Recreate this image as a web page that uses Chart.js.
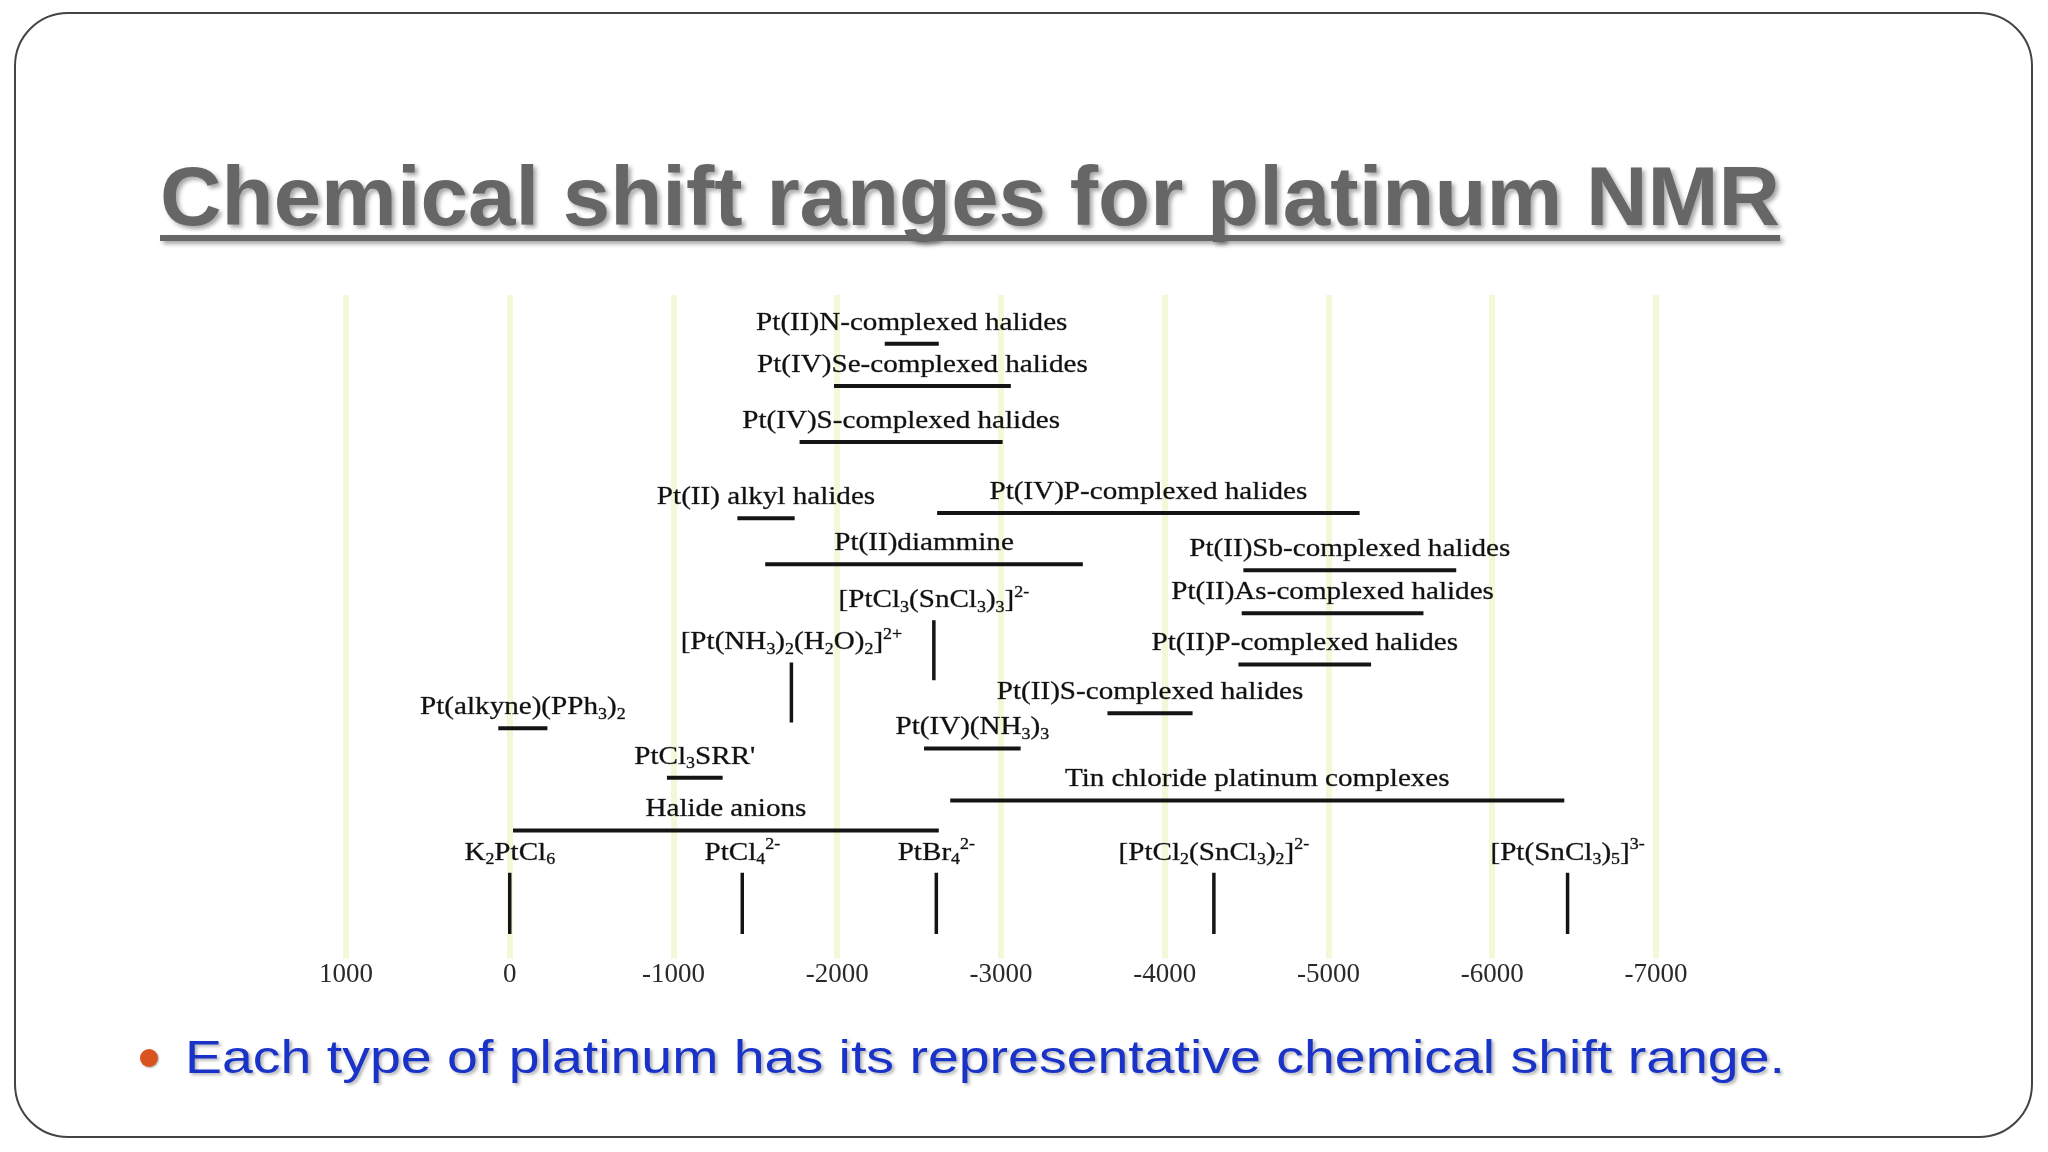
<!DOCTYPE html>
<html>
<head>
<meta charset="utf-8">
<title>Chemical shift ranges for platinum NMR</title>
<script src="https://cdn.jsdelivr.net/npm/chart.js@4.4.1/dist/chart.umd.min.js"></script>
<style>
  html, body { margin: 0; padding: 0; background: #fff; }
  body { width: 2048px; height: 1152px; position: relative; overflow: hidden; }
  .slide {
    position: absolute; left: 14px; top: 12px; width: 2019px; height: 1126px;
    box-sizing: border-box; border: 2px solid #444; border-radius: 54px;
  }
  .title {
    position: absolute; left: 160px; top: 154px; margin: 0;
    font: bold 84px/84px "Liberation Sans", Arial, sans-serif;
    color: #666; white-space: nowrap;
    text-decoration: underline; text-decoration-thickness: 6px; text-underline-offset: 10px;
    text-decoration-skip-ink: none;
    text-shadow: 3px 3px 4px rgba(0,0,0,0.35);
    transform: scaleX(1.015); transform-origin: left top;
  }
  .chartbox { position: absolute; left: 246px; top: 270px; width: 1510px; height: 760px; }
  .dot {
    position: absolute; left: 140px; top: 1049px; width: 18px; height: 18px; border-radius: 50%;
    background: #d9531e; box-shadow: 1px 1px 2px rgba(0,0,0,0.3);
  }
  .bullet {
    position: absolute; left: 185px; top: 1033px; margin: 0;
    font: 47px/47px "Liberation Sans", Arial, sans-serif; color: #1933c8; white-space: nowrap;
    text-shadow: 2px 2px 3px rgba(0,0,0,0.3);
    transform: scaleX(1.18); transform-origin: left top;
  }
</style>
</head>
<body>
<div class="slide"></div>
<h1 class="title">Chemical shift ranges for platinum NMR</h1>
<div class="chartbox"><canvas id="nmr"></canvas></div>
<span class="dot"></span>
<p class="bullet">Each type of platinum has its representative chemical shift range.</p>

<script>
// ===============================
// DATA (ppm)
// ===============================
// {_x} = subscript, {^x} = superscript

// horizontal shift ranges
const rangeNames = [
  "Pt(II)N-complexed halides",
  "Pt(IV)Se-complexed halides",
  "Pt(IV)S-complexed halides",
  "Pt(II) alkyl halides",
  "Pt(IV)P-complexed halides",
  "Pt(II)diammine",
  "Pt(II)Sb-complexed halides",
  "Pt(II)As-complexed halides",
  "Pt(II)P-complexed halides",
  "Pt(II)S-complexed halides",
  "Pt(IV)(NH{_3}){_3}",
  "Pt(alkyne)(PPh{_3}){_2}",
  "PtCl{_3}SRR'",
  "Tin chloride platinum complexes",
  "Halide anions"
];
const rangeFrom = [-2290, -1980, -1770, -1390, -2610, -1560, -4480, -4470, -4450, -3650, -2530,   70,  -960, -2690,   -20];
const rangeTo   = [-2620, -3060, -3010, -1740, -5190, -3500, -5780, -5580, -5260, -4170, -3120, -230, -1300, -6440, -2620];
// row of each range, 0 = top of plot, 100 = bottom
const rangeRow  = [  7.5,  14.0,  22.6,  34.3,  33.5,  41.4,  42.3,  48.9,  56.8,  64.3,  69.7,  66.6,  74.2,  77.7,  82.3];

// single compounds (vertical markers)
const pointNames = [
  "[PtCl{_3}(SnCl{_3}){_3}]{^2-}",
  "[Pt(NH{_3}){_2}(H{_2}O){_2}]{^2+}",
  "K{_2}PtCl{_6}",
  "PtCl{_4}{^2-}",
  "PtBr{_4}{^2-}",
  "[PtCl{_2}(SnCl{_3}){_2}]{^2-}",
  "[Pt(SnCl{_3}){_5}]{^3-}"
];
const pointShift  = [-2590, -1720,    0, -1420, -2605, -4300, -6460];
const pointTop    = [ 50.0,  56.5, 88.8,  88.8,  88.8,  88.8,  88.8];
const pointBottom = [ 59.2,  65.7, 98.2,  98.2,  98.2,  98.2,  98.2];

const tickValues = [1000, 0, -1000, -2000, -3000, -4000, -5000, -6000, -7000];

// ===============================
// DATASETS
// ===============================
const ink = '#141414';
const datasets = [];
rangeNames.forEach((name, i) => {
  datasets.push({
    label: name,
    data: [{ x: rangeFrom[i], y: rangeRow[i] }, { x: rangeTo[i], y: rangeRow[i] }],
    showLine: true, borderColor: ink, borderWidth: 4, pointRadius: 0, borderCapStyle: 'butt'
  });
});
pointNames.forEach((name, i) => {
  datasets.push({
    label: name,
    data: [{ x: pointShift[i], y: pointTop[i] }, { x: pointShift[i], y: pointBottom[i] }],
    showLine: true, borderColor: ink, borderWidth: 3.5, pointRadius: 0, borderCapStyle: 'butt'
  });
});

// draw "Pt(NH{_3}){_2}" style text with sub/superscripts
function richText(ctx, str, size) {
  const parts = [];
  const re = /\{([_^])([^}]*)\}/g;
  let last = 0, m;
  while ((m = re.exec(str)) !== null) {
    if (m.index > last) parts.push({ t: str.slice(last, m.index), k: '' });
    parts.push({ t: m[2], k: m[1] });
    last = re.lastIndex;
  }
  if (last < str.length) parts.push({ t: str.slice(last), k: '' });
  const small = Math.round(size * 0.6);
  const fontFor = k => (k ? small : size) + 'px "Liberation Serif", "Times New Roman", serif';
  let w = 0;
  parts.forEach(p => { ctx.font = fontFor(p.k); p.w = ctx.measureText(p.t).width; w += p.w; });
  let x = -w / 2;
  parts.forEach(p => {
    ctx.font = fontFor(p.k);
    const dy = p.k === '_' ? size * 0.28 : p.k === '^' ? -size * 0.3 : 0;
    ctx.fillText(p.t, x, dy);
    ctx.strokeText(p.t, x, dy);
    x += p.w;
  });
}

const labelPlugin = {
  id: 'shiftLabels',
  afterDatasetsDraw(chart) {
    const { ctx, scales: { x, y } } = chart;
    ctx.save();
    ctx.fillStyle = '#111';
    ctx.strokeStyle = 'rgba(17,17,17,0.6)';
    ctx.lineWidth = 0.5;
    ctx.textAlign = 'left';
    ctx.textBaseline = 'middle';
    const put = (str, px, py) => {
      ctx.save();
      ctx.translate(px, py);
      ctx.scale(1.12, 1);
      richText(ctx, str, 26);
      ctx.restore();
    };
    rangeNames.forEach((name, i) => {
      const cx = (x.getPixelForValue(rangeFrom[i]) + x.getPixelForValue(rangeTo[i])) / 2;
      put(name, cx, y.getPixelForValue(rangeRow[i]) - 21);
    });
    pointNames.forEach((name, i) => {
      put(name, x.getPixelForValue(pointShift[i]), y.getPixelForValue(pointTop[i]) - 20);
    });
    ctx.restore();
  }
};

// ===============================
// CHART
// ===============================
new Chart(document.getElementById('nmr'), {
  type: 'scatter',
  data: { datasets },
  options: {
    responsive: true,
    maintainAspectRatio: false,
    animation: false,
    layout: { padding: { left: 100, right: 100, top: 25, bottom: 39 } },
    plugins: { legend: { display: false }, tooltip: { enabled: false } },
    scales: {
      x: {
        type: 'linear', min: -7000, max: 1000, reverse: true,
        afterBuildTicks: s => { s.ticks = tickValues.map(v => ({ value: v })); },
        ticks: {
          callback: v => String(v), padding: 0, maxRotation: 0, autoSkip: false,
          color: '#2a2a2a', font: { family: '"Liberation Serif", "Times New Roman", serif', size: 27 }
        },
        grid: { color: 'rgba(240,245,195,0.65)', lineWidth: 6, tickLength: 13 },
        border: { display: false }
      },
      y: { type: 'linear', min: 0, max: 100, reverse: true, display: false }
    }
  },
  plugins: [labelPlugin]
});
</script>
</body>
</html>
